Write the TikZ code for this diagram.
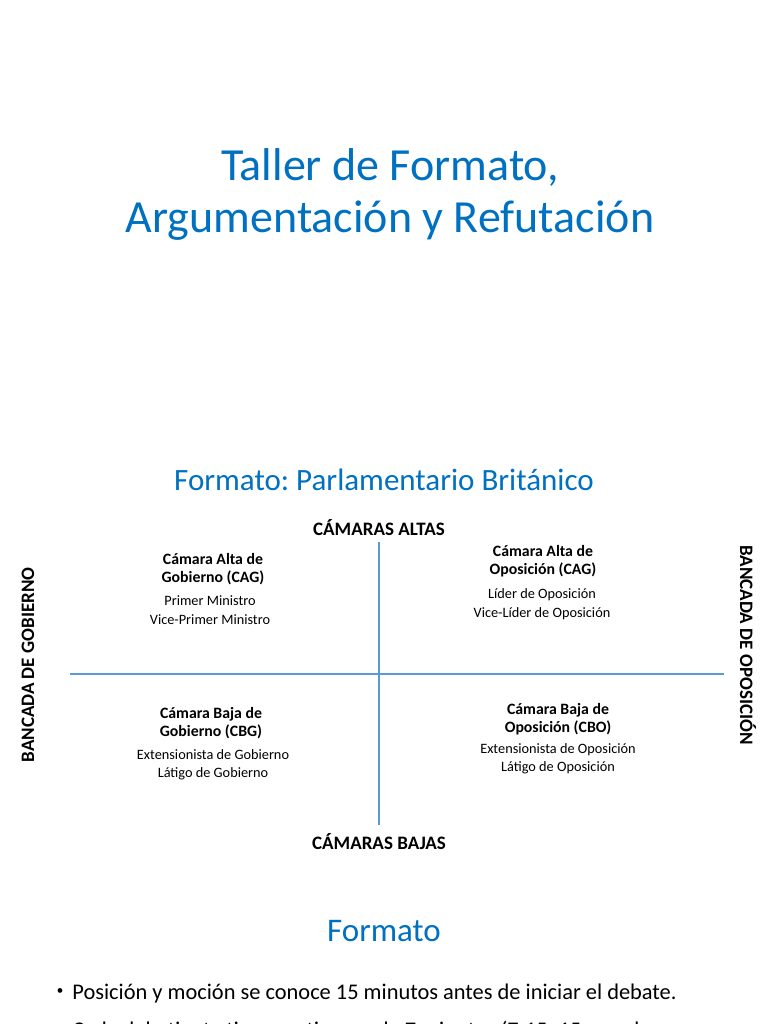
\documentclass[tikz,border=0pt]{standalone}
\usepackage{fontspec}
\setmainfont{Carlito}
\frenchspacing
\definecolor{tblue}{HTML}{0070C0}
\definecolor{lblue}{HTML}{5B9BD5}
\newcommand{\mybul}{\raisebox{0.28em}{\tikz[x=1pt,y=1pt]\fill (0,0) circle (2.4pt);}\hspace{0.45em}}
\begin{document}
\begin{tikzpicture}[x=1pt,y=-1pt,
  lbl/.style={font=\fontsize{15.8}{18}\selectfont\bfseries,align=center},
  sm/.style={font=\fontsize{14.3}{18.5}\selectfont,align=center},
  side/.style={font=\fontsize{19}{21}\selectfont\bfseries},
  ax/.style={lblue,line width=2.2pt}]
\clip (0,0) rectangle (768,1024);
\useasboundingbox (0,0) rectangle (768,1024);
\fill[white] (0,0) rectangle (768,1024);
\node[tblue,font=\fontsize{46}{52}\selectfont,align=center] (title) at (390,194) {Taller de Formato,\\Argumentación y Refutación};
\node[tblue,font=\fontsize{31}{34}\selectfont] (sub) at (384,480) {Formato: Parlamentario Británico};
\coordinate (vt) at (379,542); \coordinate (vb) at (379,825);
\coordinate (hl) at (70,674); \coordinate (hr) at (724,674);
\draw[ax] (vt) -- (vb);
\draw[ax] (hl) -- (hr);
\node[side] (ca) at (379,528) {CÁMARAS ALTAS};
\node[side] (cb) at (379,842) {CÁMARAS BAJAS};
\node[side,rotate=90] (bg) at (28,665) {BANCADA DE GOBIERNO};
\node[side,rotate=-90] (bo) at (748,645) {BANCADA DE OPOSICIÓN};
\node[lbl] (cag) at (213,569) {Cámara Alta de\\Gobierno (CAG)};
\node[sm] (cagt) at (210,610) {Primer Ministro\\Vice-Primer Ministro};
\node[lbl] (cao) at (543,561) {Cámara Alta de\\Oposición (CAG)};
\node[sm] (caot) at (542,604) {Líder de Oposición\\Vice-Líder de Oposición};
\node[lbl] (cbg) at (211,723) {Cámara Baja de\\Gobierno (CBG)};
\node[sm] (cbgt) at (213,765) {Extensionista de Gobierno\\Látigo de Gobierno};
\node[lbl] (cbo) at (558,719) {Cámara Baja de\\Oposición (CBO)};
\node[sm] (cbot) at (558,759) {Extensionista de Oposición\\Látigo de Oposición};
\node[tblue,font=\fontsize{33}{36}\selectfont] (fmt) at (384,931) {Formato};
\node[font=\fontsize{22.4}{38}\selectfont,anchor=north west,align=left] (bul) at (54,980) {\mybul Posición y moción se conoce 15 minutos antes de iniciar el debate.\\\mybul Cada debatiente tiene un tiempo de 7 minutos (7:15: 15 seg. de};
\end{tikzpicture}
\end{document}
